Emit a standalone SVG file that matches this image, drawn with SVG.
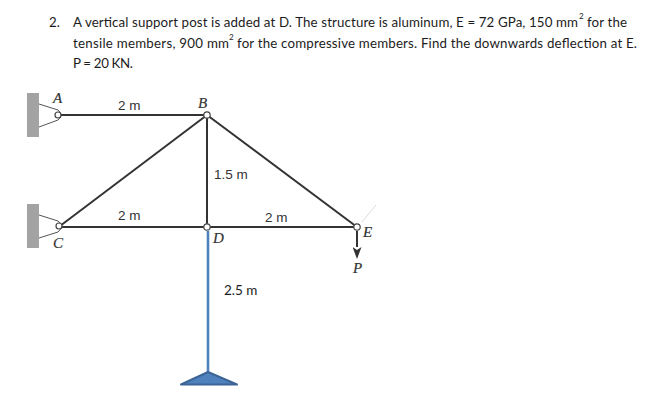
<svg xmlns="http://www.w3.org/2000/svg" width="660" height="411" viewBox="0 0 660 411">
<style>
.t{font-family:"Lato","Liberation Sans",sans-serif;font-size:13.3px;fill:#1c1c1c}
.s{font-family:"Lato","Liberation Sans",sans-serif;font-size:8px;fill:#1c1c1c}
.d{font-family:"Liberation Sans",sans-serif;font-size:13.500px;fill:#333}
.l{font-family:"Liberation Serif",serif;font-style:italic;font-size:15px;stroke:#333;stroke-width:0.200px;fill:#333}
.m{stroke:#333;stroke-width:2;fill:none}
.th{stroke:#555;stroke-width:1;fill:none}
.j{fill:#fff;stroke:#444;stroke-width:1.200}
.w{fill:#a3a3a3}
</style>
<defs><marker id="ah" markerWidth="12" markerHeight="9" refX="0" refY="4.500" orient="auto" markerUnits="userSpaceOnUse"><path d="M0,0L12,4.500L0,9L3,4.500Z" fill="#333"/></marker></defs>
<rect width="660" height="411" fill="#fff"/>
<g id="text">
<text class="t" x="49" y="27">2.</text>
<text class="t" x="73" y="27" textLength="505">A vertical support post is added at D. The structure is aluminum, E = 72 GPa, 150 mm</text>
<text class="s" x="579" y="19">2</text>
<text class="t" x="587" y="27" textLength="40">for the</text>
<text class="t" x="73" y="48" textLength="156">tensile members, 900 mm</text>
<text class="s" x="229" y="40">2</text>
<text class="t" x="237" y="48" textLength="400">for the compressive members. Find the downwards deflection at E.</text>
<text class="t" x="73" y="68" textLength="60">P = 20 KN.</text>
</g>
<g id="connectors">
<line class="m" x1="60" y1="115" x2="207" y2="115"/>
<line class="m" x1="60" y1="226" x2="207" y2="115"/>
<line class="m" x1="60" y1="227" x2="357" y2="227"/>
<line class="m" x1="207" y1="115" x2="207" y2="227"/>
<line class="m" x1="207" y1="115" x2="357" y2="227"/>
<line x1="208" y1="231" x2="208" y2="375" stroke="#4f81bd" stroke-width="2.600"/>
<line class="m" x1="357" y1="231" x2="357" y2="247" marker-end="url(#ah)"/>
<line x1="362" y1="222" x2="376" y2="205" stroke="#ccc" stroke-width="0.700"/>
</g>
<g id="node-A">
<rect class="w" x="27" y="93" width="12" height="44"/>
<path class="th" d="M39,104L58,110Q64,115 58,120L39,127"/>
<circle class="j" cx="58" cy="115" r="3"/>
<text class="l" x="53" y="103">A</text>
</g>
<g id="node-C">
<rect class="w" x="27" y="204" width="12" height="44"/>
<path class="th" d="M39,215L58,221Q65,226 58,232L39,238"/>
<circle class="j" cx="59" cy="226" r="3"/>
<text class="l" x="53" y="248">C</text>
</g>
<g id="node-B">
<circle class="j" cx="207" cy="115" r="3.200"/>
<text class="l" x="198" y="108">B</text>
</g>
<g id="node-D">
<circle class="j" cx="207" cy="227" r="3.200"/>
<text class="l" x="213" y="243">D</text>
</g>
<g id="node-E">
<circle class="j" cx="357" cy="227" r="3.200"/>
<text class="l" x="363" y="237">E</text>
<text class="l" x="353" y="273">P</text>
</g>
<g id="support">
<path d="M181,384.500L208,372L237,384.500Z" fill="#4f81bd" stroke="#3c6596" stroke-width="2" stroke-linejoin="round"/>
</g>
<g id="dimensions">
<text class="d" x="118" y="110">2 m</text>
<text class="d" x="118" y="220">2 m</text>
<text class="d" x="265" y="222">2 m</text>
<text class="d" x="214" y="179">1.5 m</text>
<text x="224" y="295" font-family="Lato,'Liberation Sans',sans-serif" font-size="13.500" fill="#1c1c1c">2.5 m</text>
</g>
</svg>
